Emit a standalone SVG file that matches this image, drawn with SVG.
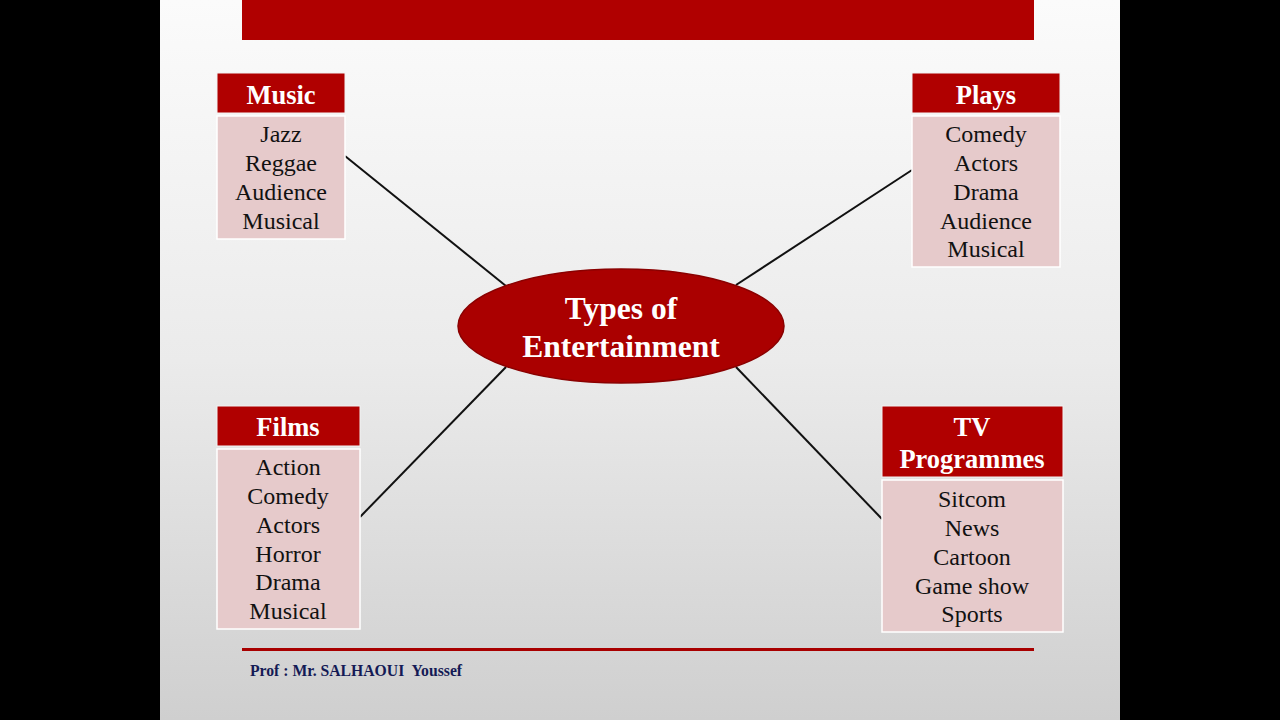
<svg xmlns="http://www.w3.org/2000/svg" width="1280" height="720" viewBox="0 0 1280 720">
<defs>
<linearGradient id="bg" x1="0" y1="0" x2="0" y2="1">
<stop offset="0" stop-color="#fbfbfb"/>
<stop offset="0.5" stop-color="#ebebeb"/>
<stop offset="1" stop-color="#cfcfcf"/>
</linearGradient>
</defs>
<style>
.hdr{fill:#b00000;stroke:#f2f2f2;stroke-width:1}
.body{fill:#e6cacb;stroke:#ffffff;stroke-width:1.5}
.ht{font-family:"Liberation Serif","Times New Roman",serif;font-weight:bold;font-size:26.5px;fill:#ffffff;text-anchor:middle}
.ct{font-family:"Liberation Serif","Times New Roman",serif;font-weight:bold;font-size:31.5px;fill:#ffffff;text-anchor:middle}
.bt{font-family:"Liberation Serif","Times New Roman",serif;font-size:24px;fill:#111111;text-anchor:middle}
.con{stroke:#111111;stroke-width:2;fill:none}
</style>
<rect x="0" y="0" width="1280" height="720" fill="#000000"/>
<rect x="160" y="0" width="960" height="720" fill="url(#bg)"/>
<rect x="242" y="0" width="792" height="40" fill="#b00000"/>
<g id="connectors">
<line class="con" x1="345" y1="156" x2="506" y2="286"/>
<line class="con" x1="912" y1="170" x2="736" y2="285"/>
<line class="con" x1="360" y1="517" x2="506" y2="367"/>
<line class="con" x1="882" y1="519" x2="736" y2="367"/>
</g>
<g id="center">
<ellipse cx="621" cy="326" rx="163" ry="57" fill="#aa0000" stroke="#8a0000" stroke-width="1.5"/>
<text class="ct" x="621" y="319">Types of</text>
<text class="ct" x="621" y="357">Entertainment</text>
</g>
<g id="music">
<rect class="hdr" x="217" y="73" width="128" height="40"/>
<text class="ht" x="281" y="104">Music</text>
<rect class="body" x="217" y="116" width="128" height="123"/>
<text class="bt" x="281" y="142">Jazz</text>
<text class="bt" x="281" y="171">Reggae</text>
<text class="bt" x="281" y="200">Audience</text>
<text class="bt" x="281" y="229">Musical</text>
</g>
<g id="plays">
<rect class="hdr" x="912" y="73" width="148" height="40"/>
<text class="ht" x="986" y="104">Plays</text>
<rect class="body" x="912" y="116" width="148" height="151"/>
<text class="bt" x="986" y="142">Comedy</text>
<text class="bt" x="986" y="171">Actors</text>
<text class="bt" x="986" y="200">Drama</text>
<text class="bt" x="986" y="229">Audience</text>
<text class="bt" x="986" y="257">Musical</text>
</g>
<g id="films">
<rect class="hdr" x="217" y="406" width="143" height="40"/>
<text class="ht" x="288" y="436">Films</text>
<rect class="body" x="217" y="449" width="143" height="180"/>
<text class="bt" x="288" y="475">Action</text>
<text class="bt" x="288" y="504">Comedy</text>
<text class="bt" x="288" y="533">Actors</text>
<text class="bt" x="288" y="562">Horror</text>
<text class="bt" x="288" y="590">Drama</text>
<text class="bt" x="288" y="619">Musical</text>
</g>
<g id="tv">
<rect class="hdr" x="882" y="406" width="181" height="71"/>
<text class="ht" x="972" y="436">TV</text>
<text class="ht" x="972" y="468">Programmes</text>
<rect class="body" x="882" y="480" width="181" height="152"/>
<text class="bt" x="972" y="507">Sitcom</text>
<text class="bt" x="972" y="536">News</text>
<text class="bt" x="972" y="565">Cartoon</text>
<text class="bt" x="972" y="594">Game show</text>
<text class="bt" x="972" y="622">Sports</text>
</g>
<line x1="242" y1="649.5" x2="1034" y2="649.5" stroke="#a80000" stroke-width="3"/>
<text x="250" y="676" font-family="'Liberation Serif','Times New Roman',serif" font-weight="bold" font-size="15.7" fill="#141a55" xml:space="preserve">Prof : Mr. SALHAOUI  Youssef</text>
</svg>
